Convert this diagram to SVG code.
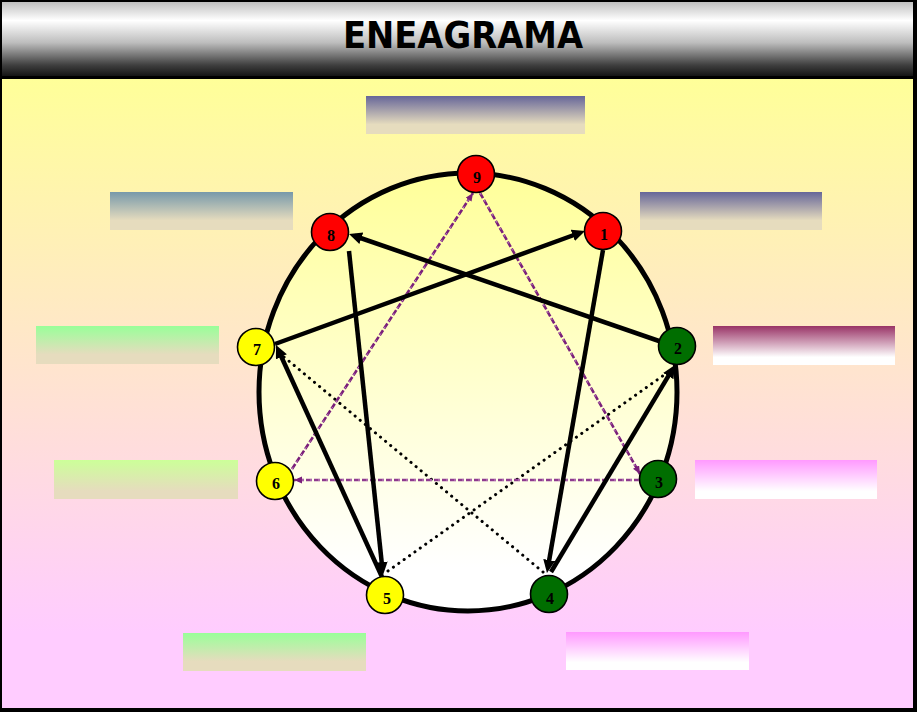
<svg xmlns="http://www.w3.org/2000/svg" width="917" height="712" viewBox="0 0 917 712">
<style>
.node circle{stroke:#000;stroke-width:1.6}
.node text{font-family:"Liberation Serif","Times New Roman",serif;font-weight:bold;font-size:16px;text-anchor:middle;fill:#000}
.red{fill:#FF0000}.green{fill:#006E00}.yellow{fill:#FFFF00}
.solid{stroke:#000;stroke-width:4.5;fill:none;marker-end:url(#ah)}
.dot{stroke:#000;stroke-width:3;fill:none;stroke-dasharray:0.1 6.5;stroke-linecap:round}
.purp{stroke:#7A1F7A;stroke-width:2.6;fill:none;stroke-dasharray:6 2;marker-end:url(#ph)}
.purp2{stroke:#D8A8D8;stroke-width:0.8;fill:none;stroke-dasharray:2 6}
</style>
<defs>
<linearGradient id="gTitle" x1="0" y1="0" x2="0" y2="1">
<stop offset="0" stop-color="#C0C0C0"/><stop offset="0.25" stop-color="#FFFFFF"/><stop offset="0.55" stop-color="#BDBDBD"/><stop offset="0.85" stop-color="#404040"/><stop offset="1" stop-color="#151515"/>
</linearGradient>
<linearGradient id="gBg" x1="0" y1="0" x2="0" y2="1">
<stop offset="0" stop-color="#FFFF99"/><stop offset="0.88" stop-color="#FFCCFF"/><stop offset="1" stop-color="#FFCCFF"/>
</linearGradient>
<linearGradient id="gCirc" x1="0" y1="0" x2="0" y2="1">
<stop offset="0" stop-color="#FFFF99"/><stop offset="0.9" stop-color="#FFFFFF"/>
</linearGradient>
<linearGradient id="gBlue" x1="0" y1="0" x2="0" y2="1"><stop offset="0" stop-color="#666699"/><stop offset="0.75" stop-color="#E6DCBE"/></linearGradient>
<linearGradient id="gTeal" x1="0" y1="0" x2="0" y2="1"><stop offset="0" stop-color="#7799AA"/><stop offset="0.75" stop-color="#E6DCBE"/></linearGradient>
<linearGradient id="gMaroon" x1="0" y1="0" x2="0" y2="1"><stop offset="0" stop-color="#993366"/><stop offset="0.8" stop-color="#FFFFFF"/></linearGradient>
<linearGradient id="gPink" x1="0" y1="0" x2="0" y2="1"><stop offset="0" stop-color="#FF99FF"/><stop offset="0.8" stop-color="#FFFFFF"/></linearGradient>
<linearGradient id="gGreen" x1="0" y1="0" x2="0" y2="1"><stop offset="0" stop-color="#99FF99"/><stop offset="0.75" stop-color="#E6DCBE"/></linearGradient>
<linearGradient id="gLime" x1="0" y1="0" x2="0" y2="1"><stop offset="0" stop-color="#CCFF99"/><stop offset="0.8" stop-color="#E6DCBE"/></linearGradient>
<marker id="ah" markerUnits="userSpaceOnUse" markerWidth="16" markerHeight="14" refX="7" refY="6" orient="auto">
<path d="M0,0 L13,6 L0,12 z" fill="#000"/>
</marker>
<marker id="ph" markerUnits="userSpaceOnUse" markerWidth="10" markerHeight="9" refX="8" refY="3.5" orient="auto">
<path d="M0,0 L8,3.5 L0,7 z" fill="#7A1F7A"/>
</marker>
</defs>
<rect x="0" y="0" width="917" height="712" fill="#000"/>
<rect x="2" y="2" width="911" height="74" fill="url(#gTitle)"/>
<rect x="2" y="79" width="911" height="629" fill="url(#gBg)"/>
<text x="463" y="48" font-family="'DejaVu Sans Condensed','DejaVu Sans',sans-serif" font-weight="bold" font-size="38" text-anchor="middle" textLength="240" lengthAdjust="spacingAndGlyphs" fill="#000">ENEAGRAMA</text>

<g id="boxes">
<rect x="366" y="96" width="219" height="38" fill="url(#gBlue)"/>
<rect x="110" y="192" width="183" height="38" fill="url(#gTeal)"/>
<rect x="640" y="192" width="182" height="38" fill="url(#gBlue)"/>
<rect x="713" y="326" width="182" height="39" fill="url(#gMaroon)"/>
<rect x="695" y="460" width="182" height="39" fill="url(#gPink)"/>
<rect x="36" y="326" width="183" height="38" fill="url(#gGreen)"/>
<rect x="54" y="460" width="184" height="39" fill="url(#gLime)"/>
<rect x="183" y="633" width="183" height="38" fill="url(#gGreen)"/>
<rect x="566" y="632" width="183" height="38" fill="url(#gPink)"/>
</g>

<ellipse id="ring" cx="468" cy="392" rx="209" ry="219" fill="url(#gCirc)" stroke="#000" stroke-width="5"/>

<g id="connectors">
<line class="dot" x1="284" y1="357" x2="543" y2="572"/>
<line class="dot" x1="388" y1="571" x2="664" y2="375"/>
<line class="purp" x1="292" y1="469" x2="473" y2="193"/>
<line class="purp" x1="480" y1="193" x2="640" y2="474"/>
<line class="purp" style="stroke:#8E3A8E" x1="640" y1="480" x2="294" y2="480"/>
<line class="purp2" x1="292" y1="469" x2="471" y2="196"/>
<line class="purp2" x1="480" y1="193" x2="638" y2="471"/>
<line class="purp2" x1="640" y1="480" x2="297" y2="480"/>
<line class="solid" x1="659" y1="341" x2="354.7" y2="236"/>
<line class="solid" x1="275" y1="344" x2="579.4" y2="233"/>
<line class="solid" x1="603" y1="250" x2="548" y2="567"/>
<line class="solid" x1="551" y1="572" x2="671.9" y2="370.1"/>
<line class="solid" x1="349" y1="251" x2="382.4" y2="569"/>
<line class="solid" x1="382" y1="577" x2="278.5" y2="350.5"/>
</g>

<g id="n9" class="node"><circle class="red" cx="476" cy="174" r="18.5"/><text x="477" y="183">9</text></g>
<g id="n8" class="node"><circle class="red" cx="330" cy="232" r="18.5"/><text x="331" y="241">8</text></g>
<g id="n1" class="node"><circle class="red" cx="603" cy="231" r="18.5"/><text x="604" y="240">1</text></g>
<g id="n7" class="node"><circle class="yellow" cx="256" cy="347" r="18.5"/><text x="257" y="355">7</text></g>
<g id="n2" class="node"><circle class="green" cx="677" cy="346" r="18.5"/><text x="678" y="354">2</text></g>
<g id="n6" class="node"><circle class="yellow" cx="275" cy="481" r="18.5"/><text x="276" y="489">6</text></g>
<g id="n3" class="node"><circle class="green" cx="658" cy="479" r="18.5"/><text x="659" y="488">3</text></g>
<g id="n5" class="node"><circle class="yellow" cx="385" cy="595" r="18.5"/><text x="387" y="604">5</text></g>
<g id="n4" class="node"><circle class="green" cx="549" cy="594" r="18.5"/><text x="550" y="604">4</text></g>
</svg>
